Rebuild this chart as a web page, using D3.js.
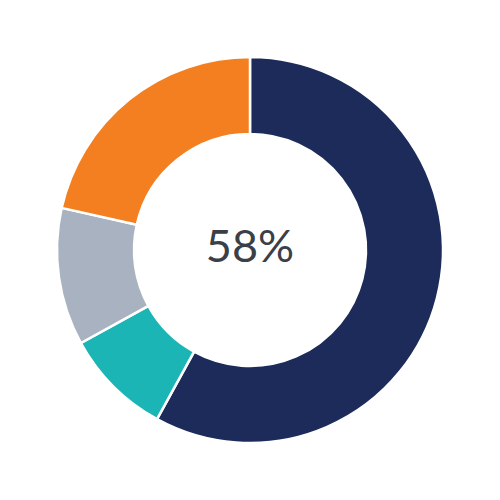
<!DOCTYPE html>
<html>
<head>
<meta charset="utf-8">
<script src="https://cdn.jsdelivr.net/npm/d3@7"></script>
<style>
  body { margin: 0; background: #fff; }
</style>
</head>
<body>
<svg id="chart" width="500" height="500"></svg>
<script>
// slice data
const labels = ["A", "B", "C", "D"];
const values = [58, 9, 11.5, 21.5];
const colors = ["#1c2b5a", "#1cb5b6", "#a8b2c1", "#f37f20"];
const centerLabel = "58%";

const svg = d3.select("#chart");
const width = +svg.attr("width");
const height = +svg.attr("height");
const outerR = 193;
const innerR = 116;

const g = svg.append("g")
    .attr("transform", `translate(${width / 2},${height / 2})`);

const pie = d3.pie().sort(null).value(d => d.value);
const arc = d3.arc().innerRadius(innerR).outerRadius(outerR);

const data = labels.map((l, i) => ({ label: l, value: values[i], color: colors[i] }));

g.selectAll("path")
    .data(pie(data))
    .enter()
    .append("path")
    .attr("d", arc)
    .attr("fill", d => d.data.color)
    .attr("stroke", "#fff")
    .attr("stroke-width", 2.5);

// center percentage, baseline a bit below middle
g.append("text")
    .attr("text-anchor", "middle")
    .attr("y", 12)
    .attr("font-family", "Lato, sans-serif")
    .attr("font-size", 45)
    .attr("fill", "#3b4048")
    .text(centerLabel);
</script>
</body>
</html>
